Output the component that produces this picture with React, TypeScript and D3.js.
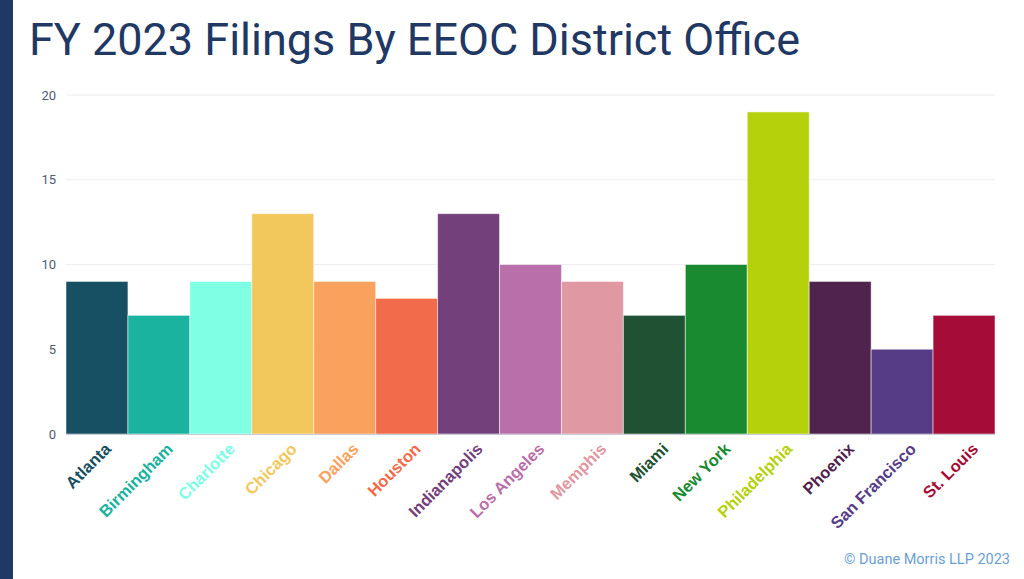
import React from "react";
import * as d3 from "d3";

const categories = ["Atlanta","Birmingham","Charlotte","Chicago","Dallas","Houston","Indianapolis","Los Angeles","Memphis","Miami","New York","Philadelphia","Phoenix","San Francisco","St. Louis"];
const values = [9,7,9,13,9,8,13,10,9,7,10,19,9,5,7];
const colors = ["#174f63","#1ab3a0","#7fffe4","#f2c75c","#f9a25e","#f26b4a","#74407c","#b86faa","#e098a2","#1e5233","#1a8a30","#b5d10c","#4f234d","#563c86","#a50c37"];
const yTicks = [0,5,10,15,20];

const W = 1024, H = 579;
const left = 66, right = 995, top = 95, bottom = 434;

export default function App() {
  const x = d3.scaleBand<string>().domain(categories).range([left, right]).padding(0);
  const y = d3.scaleLinear().domain([0, 20]).range([bottom, top]);
  const font = "Roboto, 'Noto Sans', sans-serif";
  const labelFont = "'Liberation Sans', Arial, sans-serif";
  return (
    <svg width={W} height={H} style={{ position: "absolute", left: 0, top: 0, background: "#fff" }}>
      <rect x={0} y={0} width={13} height={H} fill="#1f3864" />
      <text x={29} y={55} fontFamily={font} fontSize={44.5} fill="#1f3864" textLength={771} lengthAdjust="spacingAndGlyphs">FY 2023 Filings By EEOC District Office</text>
      {yTicks.map(t => (
        <g key={t}>
          {t > 0 && <line x1={left} x2={right} y1={y(t)} y2={y(t)} stroke="#eeeef2" strokeWidth={1.2} />}
          <text x={56} y={y(t)} dy="0.35em" textAnchor="end" fontFamily={font} fontSize={13} fill="#4f5b73">{t}</text>
        </g>
      ))}
      {categories.map((c, i) => (
        <rect key={c} x={x(c)!} y={y(values[i])} width={x.bandwidth()} height={y(0) - y(values[i])} fill={colors[i]} stroke="#ffffff" strokeOpacity={0.5} strokeWidth={1} />
      ))}
      <line x1={left} x2={right} y1={bottom + 0.5} y2={bottom + 0.5} stroke="#c8ccd6" strokeWidth={1} />
      {categories.map((c, i) => {
        const cx = x(c)! + x.bandwidth() / 2 + 11;
        const cy = bottom + 12;
        return (
          <text key={c} transform={`translate(${cx},${cy}) rotate(-45)`} textAnchor="end" dy="0.35em" fontFamily={labelFont} fontWeight="bold" fontSize={16.5} fill={colors[i]}>{c}</text>
        );
      })}
      <text x={1010} y={564} textAnchor="end" fontFamily={font} fontSize={14.5} fill="#6b9fd4">© Duane Morris LLP 2023</text>
    </svg>
  );
}
